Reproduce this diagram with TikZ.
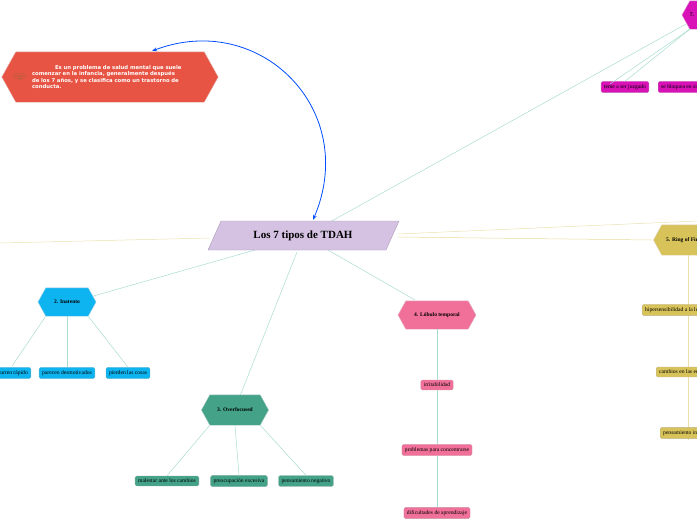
\documentclass[tikz,border=0pt]{standalone}
\usepackage{fontspec}
\setmainfont{Liberation Serif}
\newfontfamily\sansf{DejaVu Sans}
\newfontfamily\emo{Noto Emoji}
\usetikzlibrary{arrows.meta}
\definecolor{cRed}{HTML}{E85444}
\definecolor{cMag}{HTML}{D912B8}
\definecolor{cYel}{HTML}{D8C25A}
\definecolor{cBlu}{HTML}{0DB4F0}
\definecolor{cTeal}{HTML}{43A288}
\definecolor{cPink}{HTML}{F0709A}
\definecolor{cLav}{HTML}{D5C2E2}
\definecolor{cLine}{HTML}{A8DCCF}
\tikzset{
 hexbody/.style={inner sep=0pt,font=\bfseries\fontsize{5.5}{6.5}\selectfont},
 leaf/.style={fill=#1,draw=#1!70!black!60,rounded corners=1.5pt,inner xsep=3pt,inner ysep=3pt,font=\fontsize{5.6}{6.6}\selectfont},
 conn/.style={draw=cLine,line width=0.5pt},
}
\newcommand{\hexn}[7]{% name, x, y, w, h, colour, text
 \node[hexbody,minimum width=#4,minimum height=#5] (#1) at (#2,#3) {};
 \fill[#6,draw=#6!80!black!40] ([xshift=-0.28*#5]#1.west) -- (#1.north west) -- (#1.north east) -- ([xshift=0.28*#5]#1.east) -- (#1.south east) -- (#1.south west) -- cycle;
 \node[hexbody] at (#2,#3) {#7};}
\begin{document}
\begin{tikzpicture}[x=1pt,y=-1pt]
\useasboundingbox (0,0) rectangle (697,520);
\clip (0,0) rectangle (697,520);
% connectors from centre
\coordinate (L) at (0,243);
\coordinate (R) at (697,221);
\draw[conn,draw=cYel!50] (210,238) -- (L);
\draw[conn,draw=cYel!50] (398,234) -- (R);
\draw[conn] (330,222) -- (686,24);
\draw[conn,draw=cYel!60] (398,237) -- (652,240);
\draw[conn] (255,250) -- (90,297);
\draw[conn] (297,252) -- (240,396);
\draw[conn] (328,250) -- (415,300);
% centre
\fill[cLav,draw=cLav!80!black] (208,250) -- (221,221) -- (399,221) -- (386,250) -- cycle;
\node[font=\bfseries\fontsize{11}{13}\selectfont] (c) at (303,236) {Los 7 tipos de TDAH};
% red
\hexn{r}{110}{77}{188}{50}{cRed}{}
\node[text=white,font=\sansf\bfseries\fontsize{5.3}{6.2}\selectfont,text width=160pt,align=left] (rt) at (112,77) {\hspace*{23pt}Es un problema de salud mental que suele comenzar en la infancia, generalmente después de los 7 años, y se clasifica como un trastorno de \mbox{conducta.}};
\node[font=\emo\fontsize{10}{10}\selectfont,text=brown!80!black] (ic) at (20,77) {👫};
\draw[{Stealth[length=5pt]}-{Stealth[length=5pt]},draw=blue!70!cyan,line width=0.8pt] (313,220) .. controls (360,110) and (260,10) .. (152,51);
% 7
\hexn{n7}{705}{15}{30}{28}{cMag}{}
\node[hexbody] (t7) at (692,15) {7.};
\node[leaf=cMag] (m1) at (625,87) {teme a ser juzgado};
\node[leaf=cMag,anchor=west] (m2) at (658,87) {se bloquea en situaciones};
\draw[conn] (n7.south west) -- (m1.north);
\draw[conn] (n7.south west) -- (610,84);
% 5
\hexn{n5}{702}{240}{80}{30}{cYel}{}
\node[hexbody,anchor=west] (t5) at (666,240) {5. Ring of Fire};
\draw[conn,draw=cYel!50] (688,255) -- (688,440);
\node[leaf=cYel,anchor=west] (y1) at (642,310) {hipersensibilidad a la luz y al ruido};
\node[leaf=cYel,anchor=west] (y2) at (656,372) {cambios en las emociones};
\node[leaf=cYel,anchor=west] (y3) at (660,433) {pensamiento inflexible};
% 2
\hexn{n2}{67}{302}{42}{28}{cBlu}{2. Inatento}
\node[leaf=cBlu,anchor=east] (b1) at (31,373) {se aburren rápido};
\node[leaf=cBlu] (b2) at (67,373) {parecen desmotivados};
\node[leaf=cBlu] (b3) at (128,373) {pierden las cosas};
\draw[conn] (n2.south west) -- (12,366);
\draw[conn] (n2.south) -- (b2.north);
\draw[conn] (n2.south east) -- (b3.north);
% 3
\hexn{n3}{235}{410}{50}{30}{cTeal}{3. Overfocused}
\node[leaf=cTeal] (t1) at (167,481) {malestar ante los cambios};
\node[leaf=cTeal] (t2) at (239,481) {preocupación excesiva};
\node[leaf=cTeal] (t3) at (306,481) {pensamiento negativo};
\draw[conn] (n3.south west) -- (t1.north);
\draw[conn] (n3.south) -- (t2.north);
\draw[conn] (n3.south east) -- (t3.north);
% 4
\hexn{n4}{437}{315}{62}{28}{cPink}{4. Lóbulo temporal}
\node[leaf=cPink] (p1) at (437,385) {irritabilidad};
\node[leaf=cPink] (p2) at (437,450) {problemas para concentrarse};
\node[leaf=cPink] (p3) at (437,513) {dificultades de aprendizaje};
\draw[conn] (n4.south) -- (p1.north);
\draw[conn] (p1.south) -- (p2.north);
\draw[conn] (p2.south) -- (p3.north);
\end{tikzpicture}
\end{document}
